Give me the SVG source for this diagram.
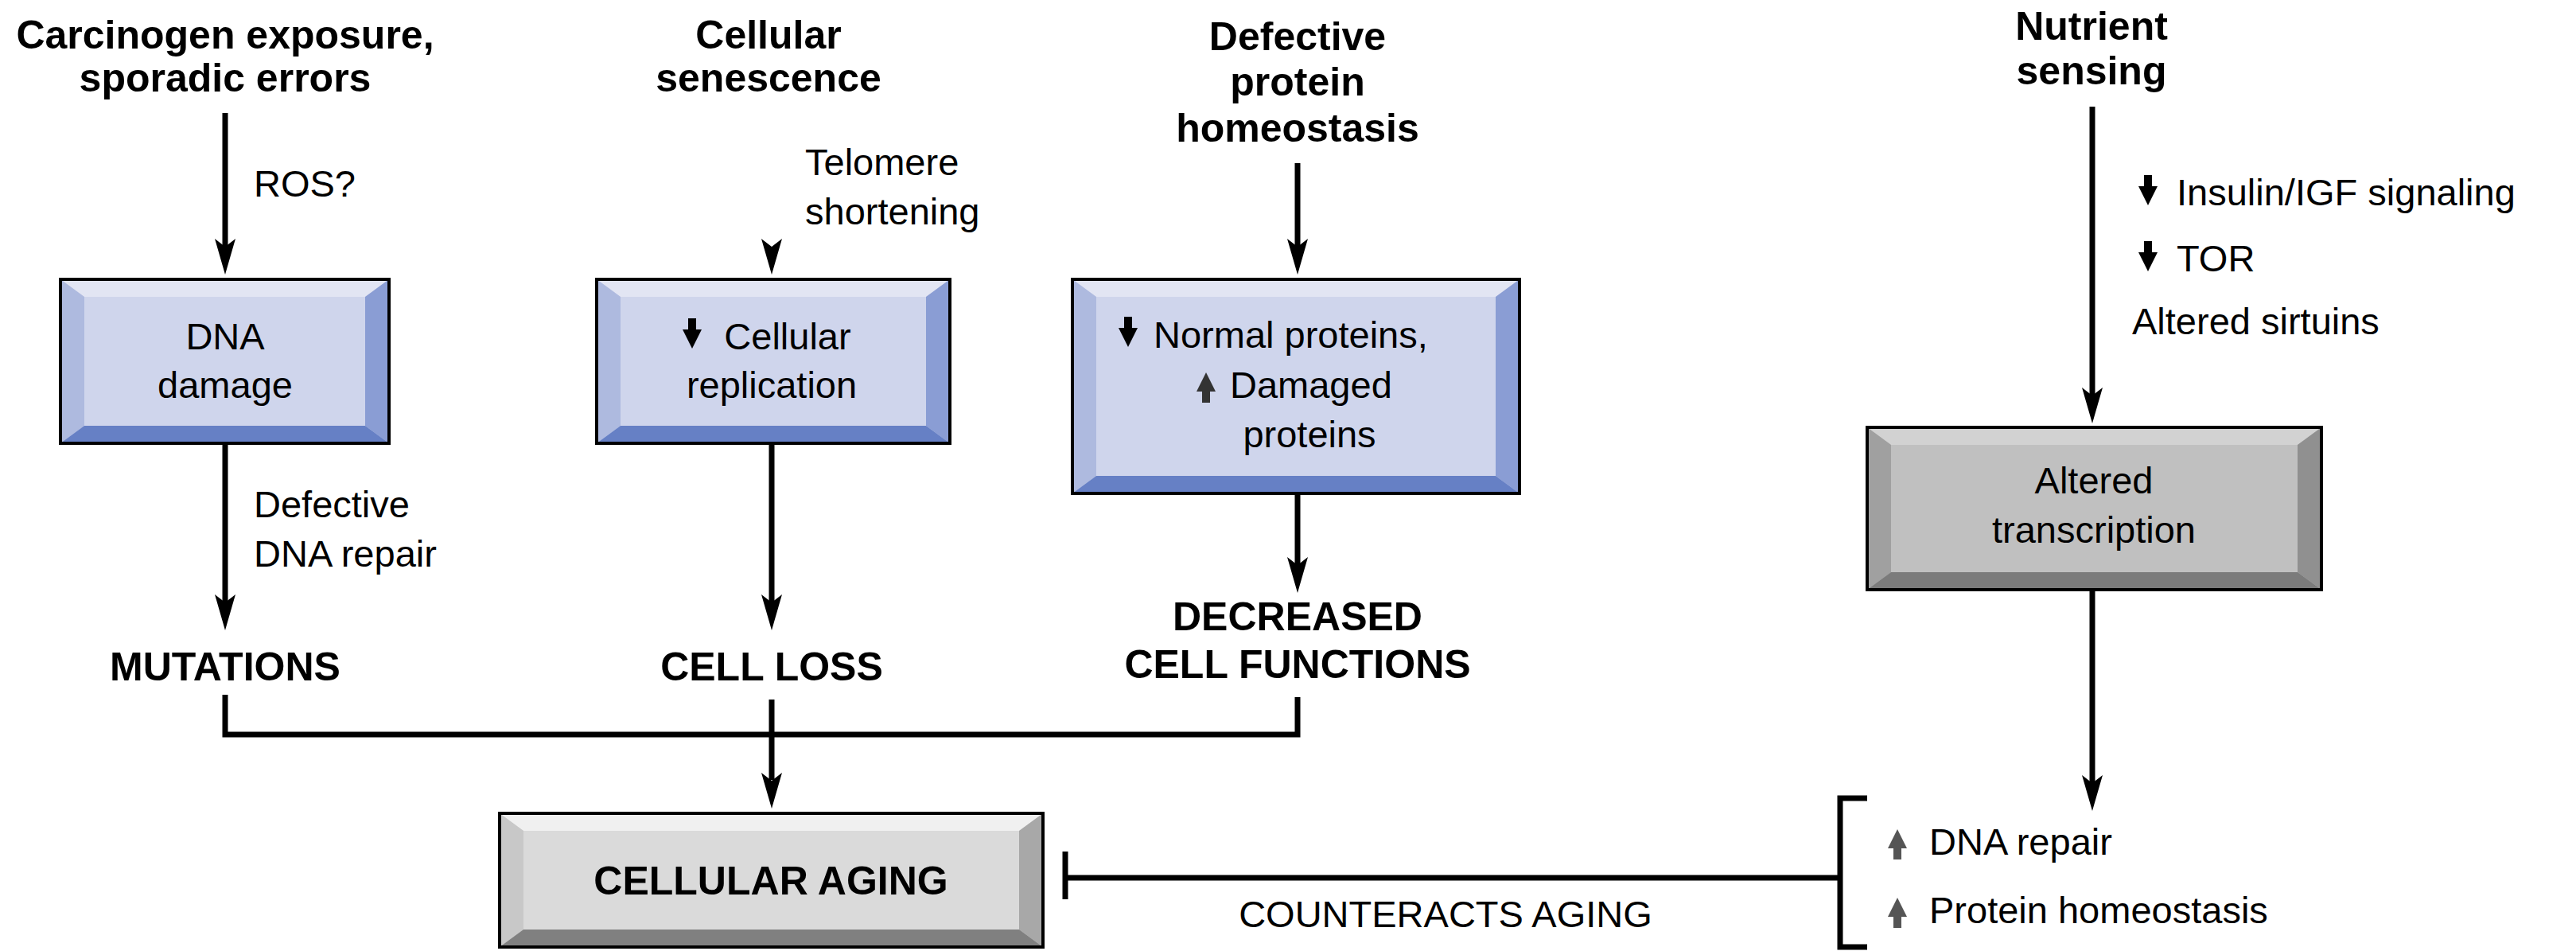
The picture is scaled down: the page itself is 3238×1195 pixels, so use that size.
<svg xmlns="http://www.w3.org/2000/svg" width="3238" height="1195" viewBox="0 0 3238 1195">
<defs>
<style>
.b{font-family:"Liberation Sans",Arial,sans-serif;font-weight:bold;font-size:50px;fill:#000;text-anchor:middle}
.r{font-family:"Liberation Sans",Arial,sans-serif;font-size:47px;fill:#000}
.m{text-anchor:middle}
.ln{stroke:#000;stroke-width:7;fill:none}
</style>
<marker id="ah" markerWidth="10" markerHeight="20" refX="9.5" refY="5" orient="auto" markerUnits="userSpaceOnUse" viewBox="0 0 10 10">
</marker>
<path id="dn" d="M-5,-22 h10 v14 h7 l-12,24 l-12,-24 h7 z"/>
<path id="up" d="M-5,22 h10 v-14 h7 l-12,-24 l-12,24 h7 z"/>
</defs>
<rect width="3238" height="1195" fill="#fff"/>

<g id="connectors">
<path class="ln" d="M283,142 V310 M283,558 V760 M283,873 V923 H1631 V876 M970,557 V760 M970,879 V980 M1631,205 V310 M1631,620 V712 M2630,134 V500 M2630,741 V985 M1339,1103 H2313 M1339,1070 V1130 M2347,1003 H2313 V1190 H2347"/>
<g fill="#000">
<polygon points="283,345 270,300 283,310 296,300"/>
<polygon points="283,792 270,747 283,757 296,747"/>
<polygon points="970,345 957,300 970,310 983,300"/>
<polygon points="970,792 957,747 970,757 983,747"/>
<polygon points="970,1016 957,971 970,981 983,971"/>
<polygon points="1631,345 1618,300 1631,310 1644,300"/>
<polygon points="1631,745 1618,700 1631,710 1644,700"/>
<polygon points="2630,532 2617,487 2630,497 2643,487"/>
<polygon points="2630,1019 2617,974 2630,984 2643,974"/>
</g>
<text class="r" x="319" y="247">ROS?</text>
<text class="r" x="1012" y="220">Telomere</text>
<text class="r" x="1012" y="282">shortening</text>
<text class="r" x="319" y="650">Defective</text>
<text class="r" x="319" y="712">DNA repair</text>
<use href="#dn" x="2700" y="242"/>
<text class="r" x="2736" y="258">Insulin/IGF signaling</text>
<use href="#dn" x="2700" y="325"/>
<text class="r" x="2736" y="341">TOR</text>
<text class="r" x="2680" y="420">Altered sirtuins</text>
<text class="r m" x="1817" y="1165">COUNTERACTS AGING</text>
<use href="#up" x="2385" y="1058" fill="#555"/>
<text class="r" x="2425" y="1074">DNA repair</text>
<use href="#up" x="2385" y="1144" fill="#555"/>
<text class="r" x="2425" y="1160">Protein homeostasis</text>
</g>

<g id="src1"><text class="b" x="283" y="61">Carcinogen exposure,</text><text class="b" x="283" y="115">sporadic errors</text></g>
<g id="src2"><text class="b" x="966" y="61">Cellular</text><text class="b" x="966" y="115">senescence</text></g>
<g id="src3"><text class="b" x="1631" y="63">Defective</text><text class="b" x="1631" y="120">protein</text><text class="b" x="1631" y="178">homeostasis</text></g>
<g id="src4"><text class="b" x="2629" y="50">Nutrient</text><text class="b" x="2629" y="106">sensing</text></g>

<g id="dna">
<rect x="76" y="351" width="413" height="206" fill="#cfd5ec"/>
<polygon points="76,351 489,351 459,373 106,373" fill="#e2e5f3"/>
<polygon points="76,351 106,373 106,535 76,557" fill="#aebadf"/>
<polygon points="489,351 459,373 459,535 489,557" fill="#8a9dd4"/>
<polygon points="76,557 106,535 459,535 489,557" fill="#6680c5"/>
<rect x="76" y="351" width="413" height="206" fill="none" stroke="#000" stroke-width="4"/>
<text class="r m" x="283" y="439">DNA</text><text class="r m" x="283" y="500">damage</text>
</g>

<g id="repl">
<rect x="750" y="351" width="444" height="206" fill="#cfd5ec"/>
<polygon points="750,351 1194,351 1164,373 780,373" fill="#e2e5f3"/>
<polygon points="750,351 780,373 780,535 750,557" fill="#aebadf"/>
<polygon points="1194,351 1164,373 1164,535 1194,557" fill="#8a9dd4"/>
<polygon points="750,557 780,535 1164,535 1194,557" fill="#6680c5"/>
<rect x="750" y="351" width="444" height="206" fill="none" stroke="#000" stroke-width="4"/>
<use href="#dn" x="870" y="422"/>
<text class="r m" x="990" y="439">Cellular</text><text class="r m" x="970" y="500">replication</text>
</g>

<g id="prot">
<rect x="1348" y="351" width="562" height="269" fill="#cfd5ec"/>
<polygon points="1348,351 1910,351 1880,373 1378,373" fill="#e2e5f3"/>
<polygon points="1348,351 1378,373 1378,598 1348,620" fill="#aebadf"/>
<polygon points="1910,351 1880,373 1880,598 1910,620" fill="#8a9dd4"/>
<polygon points="1348,620 1378,598 1880,598 1910,620" fill="#6680c5"/>
<rect x="1348" y="351" width="562" height="269" fill="none" stroke="#000" stroke-width="4"/>
<use href="#dn" x="1418" y="420"/>
<text class="r" x="1450" y="437">Normal proteins,</text>
<use href="#up" x="1516" y="484" fill="#333"/>
<text class="r" x="1546" y="500">Damaged</text>
<text class="r m" x="1646" y="562">proteins</text>
</g>

<g id="trans">
<rect x="2347" y="537" width="571" height="204" fill="#c0c0c0"/>
<polygon points="2347,537 2918,537 2888,559 2377,559" fill="#d2d2d2"/>
<polygon points="2347,537 2377,559 2377,719 2347,741" fill="#a0a0a0"/>
<polygon points="2918,537 2888,559 2888,719 2918,741" fill="#909090"/>
<polygon points="2347,741 2377,719 2888,719 2918,741" fill="#7b7b7b"/>
<rect x="2347" y="537" width="571" height="204" fill="none" stroke="#000" stroke-width="4"/>
<text class="r m" x="2632" y="620">Altered</text><text class="r m" x="2632" y="682">transcription</text>
</g>

<g id="mut"><text class="b" x="283" y="855">MUTATIONS</text></g>
<g id="loss"><text class="b" x="970" y="855">CELL LOSS</text></g>
<g id="dec"><text class="b" x="1631" y="792">DECREASED</text><text class="b" x="1631" y="852">CELL FUNCTIONS</text></g>

<g id="aging">
<rect x="628" y="1022" width="683" height="168" fill="#dadada"/>
<polygon points="628,1022 1311,1022 1281,1044 658,1044" fill="#f0f0f0"/>
<polygon points="628,1022 658,1044 658,1168 628,1190" fill="#c8c8c8"/>
<polygon points="1311,1022 1281,1044 1281,1168 1311,1190" fill="#a8a8a8"/>
<polygon points="628,1190 658,1168 1281,1168 1311,1190" fill="#808080"/>
<rect x="628" y="1022" width="683" height="168" fill="none" stroke="#000" stroke-width="4"/>
<text class="b" x="969" y="1124">CELLULAR AGING</text>
</g>
</svg>
